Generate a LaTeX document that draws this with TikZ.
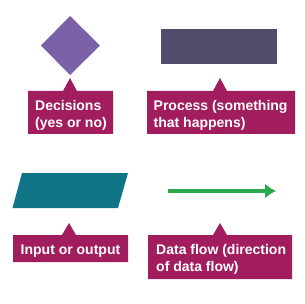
\documentclass[tikz,border=0pt]{standalone}
\usepackage{fontspec}
\setmainfont{Liberation Sans}
\usetikzlibrary{arrows.meta}
\definecolor{callout}{HTML}{A21D5E}
\definecolor{diapurple}{HTML}{7A61A8}
\definecolor{procslate}{HTML}{4F4D6B}
\definecolor{ioteal}{HTML}{0E7486}
\definecolor{flowgreen}{HTML}{2DA84E}
\tikzset{
  calloutbox/.style={fill=callout, draw=none},
  callouttext/.style={text=white, font=\fontsize{14}{17}\selectfont\bfseries, inner sep=0pt, anchor=base west, align=left},
}
\begin{document}
\begin{tikzpicture}[x=1pt,y=-1pt]
\useasboundingbox (0,0) rectangle (304,304);
\fill[white] (0,0) rectangle (304,304);
% shapes
\fill[diapurple] (70,16) -- (100,45.5) -- (70,75) -- (41,45.5) -- cycle;
\node[fill=procslate, minimum width=116pt, minimum height=35pt, inner sep=0pt, anchor=north west] (proc) at (161,29) {};
\fill[ioteal] (22,173) -- (128,173) -- (118,208) -- (12.5,208) -- cycle;
\coordinate (fa) at (168,191);
\coordinate (fb) at (276,191);
\draw[flowgreen, line width=3.5pt, -{Latex[length=11pt,width=15pt]}] (fa) -- (fb);
% callouts
\fill[calloutbox] (28,91) -- (63,91) -- (70,78) -- (77,91) -- (113,91) -- (113,134) -- (28,134) -- cycle;
\node[callouttext] (dec) at (35,127.5) {Decisions\\(yes or no)};
\fill[calloutbox] (147,91) -- (213,91) -- (220,78) -- (227,91) -- (295,91) -- (295,134) -- (147,134) -- cycle;
\node[callouttext] (procl) at (153.5,127.5) {Process (something\\that happens)};
\fill[calloutbox] (13,235) -- (62,235) -- (69,223) -- (76,235) -- (128,235) -- (128,262) -- (13,262) -- cycle;
\node[callouttext] (io) at (20.5,254) {Input or output};
\fill[calloutbox] (148,235) -- (213,235) -- (220,223) -- (227,235) -- (292,235) -- (292,279) -- (148,279) -- cycle;
\node[callouttext] (flow) at (156,271) {Data flow (direction\\of data flow)};
\end{tikzpicture}
\end{document}
